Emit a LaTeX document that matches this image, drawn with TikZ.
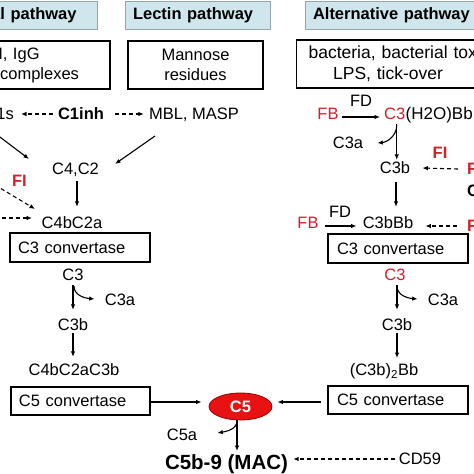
\documentclass[tikz,border=0pt]{standalone}
\usepackage{fontspec}
\setmainfont{Liberation Sans}
\usetikzlibrary{arrows.meta,shapes.geometric}
\definecolor{hdrfill}{RGB}{206,230,236}
\definecolor{hdrline}{RGB}{150,165,170}
\definecolor{redtxt}{RGB}{215,30,40}
\definecolor{ellred}{RGB}{232,18,18}
\definecolor{ellline}{RGB}{150,0,0}
\begin{document}
\begin{tikzpicture}[x=1pt,y=1pt,
  every node/.style={font=\fontsize{16.5}{20}\selectfont, inner sep=1pt},
  lab/.style={text height=11.8pt, text depth=0pt},
  redlab/.style={lab, text=redtxt},
  boldred/.style={lab, text=redtxt, font=\fontsize{16.5}{20}\selectfont\bfseries},
  boldlab/.style={lab, font=\fontsize{16.5}{20}\selectfont\bfseries},
  hdr/.style={draw=hdrline, fill=hdrfill, line width=1pt, minimum height=28pt, font=\fontsize{16.5}{20}\selectfont\bfseries},
  box/.style={draw=black, line width=1.2pt},
  arr/.style={-{Latex[length=5.5pt,width=4.5pt]}, line width=1.1pt},
  darr/.style={arr, dash pattern=on 4pt off 3pt},
]
\useasboundingbox (0,0) rectangle (474,-474);
\clip (0,0) rectangle (474,-474);

% headers
\node[hdr, minimum width=184pt, text width=182pt, align=center] (hcl) at (5,-15) {Classical pathway};
\node[hdr, minimum width=145pt, text width=129pt, inner xsep=8pt, align=left] (hle) at (197.5,-15) {Lectin pathway};
\node[hdr, minimum width=185pt, text width=169pt, inner xsep=8pt, align=left] (hal) at (397.5,-15) {Alternative pathway};

% activator boxes
\node[box, minimum width=205pt, minimum height=48pt, text width=200pt, align=center] (bcl) at (7.5,-65) {IgM, IgG\\immune-complexes};
\node[box, minimum width=135pt, minimum height=48pt, text width=130pt, align=center] (ble) at (195.5,-65) {Mannose\\residues};
\node[box, anchor=west, minimum height=48pt, text width=240pt, inner xsep=12pt, align=left, font=\fontsize{17.5}{21}\selectfont] (bal) at (296,-64) {bacteria, bacterial toxins,\\\hspace*{24.5pt}LPS, tick-over};

% classical / lectin row
\node[lab, anchor=east] (c1s) at (15,-114) {C1q, C1r, C1s};
\node[boldlab] (c1inh) at (81,-114) {C1inh};
\node[lab] (mbl) at (194,-114) {MBL, MASP};
\draw[darr] ([xshift=-4pt]c1inh.west) -- ([xshift=6pt]c1s.east);
\draw[darr] ([xshift=10pt]c1inh.east) -- ([xshift=-4pt]mbl.west);

% left column
\node[lab] (c4c2) at (75.5,-169) {C4,C2};
\node[lab] (c4bc2a) at (72,-223) {C4bC2a};
\node[boldred] (fil) at (19.5,-181) {FI};
\coordinate (c1from) at (-20,-122);
\coordinate (c1to) at (29,-159);
\draw[arr] (c1from) -- (c1to);
\coordinate (mblfrom) at (155,-136);
\coordinate (mblto) at (115,-164);
\draw[arr] (mblfrom) -- (mblto);
\draw[arr, shorten <=5pt, shorten >=9pt] ([xshift=1.5pt]c4c2.south) -- ([xshift=1.5pt]c4c2.south |- c4bc2a.north);
\coordinate (fiA) at (-5,-185);
\coordinate (fiB) at (35,-209);
\draw[darr] (fiA) -- (fiB);
\coordinate (fiC) at (-5,-218);
\draw[darr] (fiC) -- (fiC -| 32,0);

\node[box, minimum width=140pt, minimum height=29pt, text width=124pt, inner xsep=8pt, align=left] (c3convl) at (80,-247.5) {C3 convertase};
\node[lab] (c3l) at (73,-275) {C3};
\node[lab] (c3al) at (120,-300) {C3a};
\node[lab] (c3bl) at (73,-325) {C3b};
\node[lab] (c4bc2ac3b) at (74,-370) {C4bC2aC3b};
\draw[arr, shorten <=3pt, shorten >=8pt] (c3l.south) -- (c3bl.north);
\draw[arr] ([xshift=1pt,yshift=-4pt]c3l.south) to[out=-90,in=175] ([xshift=-9pt,yshift=1pt]c3al.west);
\draw[arr, shorten <=1pt, shorten >=6pt] (c3bl.south) -- (c3bl.south |- c4bc2ac3b.north);
\node[box, minimum width=139pt, minimum height=28pt, text width=123pt, inner xsep=8pt, align=left] (c5convl) at (80.5,-401) {C5 convertase};

% right column
\node[redlab] (fb1) at (328,-114) {FB};
\node[redlab, anchor=west, inner xsep=0pt] (c3r) at (384,-114) {C3};
\node[lab, anchor=west, inner xsep=0pt, font=\fontsize{17}{20}\selectfont] (h2o) at (c3r.east) {(H2O)Bb};
\node[lab] (fd1) at (361,-101) {FD};
\draw[arr] ([shift={(2.5pt,-3pt)}]fb1.east) -- ([shift={(-4pt,-3pt)}]c3r.west);
\node[lab] (c3ar) at (348,-143) {C3a};
\node[lab] (c3br) at (395,-168) {C3b};
\node[boldred] (fir) at (440,-153) {FI};
\node[boldred, anchor=west] (fhr) at (466,-169) {FH};
\node[boldlab, anchor=west] (cr1) at (466,-191) {CR1};
\draw[arr, shorten <=3pt, shorten >=1pt] ([xshift=2pt]c3r.south) -- ([xshift=2pt]c3r.south |- c3br.north);
\draw[arr] ([xshift=2pt,yshift=-4pt]c3r.south) to[out=-90,in=5] ([xshift=13pt]c3ar.east);
\draw[darr] ([xshift=-8pt]fhr.west) -- ([xshift=11pt]c3br.east);

\node[redlab] (fb2) at (308,-223) {FB};
\node[lab] (c3bbb) at (388,-223) {C3bBb};
\node[lab] (fd2) at (340,-212) {FD};
\node[boldred, anchor=west] (fpr) at (466,-226) {FP};
\draw[arr, shorten <=7pt, shorten >=9pt] ([xshift=1pt]c3br.south) -- ([xshift=1pt]c3br.south |- c3bbb.north);
\draw[arr] ([shift={(5.5pt,-3pt)}]fb2.east) -- ([shift={(-5pt,-3pt)}]c3bbb.west);
\draw[darr] ([xshift=-9pt]fpr.west) -- ([xshift=11pt]c3bbb.east |- fpr.west);

\node[box, minimum width=140pt, minimum height=29pt, text width=122pt, inner xsep=9pt, align=left] (c3convr) at (398,-248.5) {C3 convertase};
\node[redlab] (c3r2) at (395,-275) {C3};
\node[lab] (c3ar2) at (443,-300) {C3a};
\node[lab] (c3br2) at (397,-325) {C3b};
\node[lab] (c3b2bb) at (384,-370) {(C3b)\textsubscript{2}Bb};
\draw[arr, shorten <=3pt, shorten >=8pt] ([xshift=2pt]c3r2.south) -- ([xshift=2pt]c3r2.south |- c3br2.north);
\draw[arr] ([xshift=2pt,yshift=-4pt]c3r2.south) to[out=-90,in=175] ([xshift=-9pt,yshift=1pt]c3ar2.west);
\draw[arr, shorten <=1pt, shorten >=6pt] (c3br2.south) -- (c3br2.south |- 0,-364);
\node[box, minimum width=140pt, minimum height=28pt, text width=122pt, inner xsep=9pt, align=left] (c5convr) at (398,-400) {C5 convertase};

% C5 and MAC
\node[ellipse, draw=ellline, fill=ellred, line width=0.8pt, minimum width=63pt, minimum height=27pt, inner sep=0pt, text=white, font=\fontsize{16.5}{20}\selectfont\bfseries] (c5) at (240.5,-406.5) {C5};
\node[lab] (c5a) at (182,-435) {C5a};
\node[lab, font=\fontsize{20.5}{24}\selectfont\bfseries, text height=14.7pt] (mac) at (226.5,-462) {C5b-9 (MAC)};
\node[lab] (cd59) at (420,-459) {CD59};
\draw[arr] (c5convl.east |- 0,-402) -- ([xshift=-7pt]c5.west |- 0,-402);
\draw[arr] ([xshift=-6pt]c5convr.west |- 0,-402) -- ([xshift=5pt]c5.east |- 0,-402);
\draw[arr] ([xshift=-3.5pt]c5.south) -- ([xshift=-3.5pt]c5.south |- 0,-451);
\draw[arr] ([xshift=-3.5pt]c5.south) to[out=-90,in=10] ([xshift=19pt,yshift=2pt]c5a.east);
\draw[darr] ([xshift=-3pt]cd59.west) -- ([xshift=4pt]cd59.west -| mac.east);
\end{tikzpicture}
\end{document}
